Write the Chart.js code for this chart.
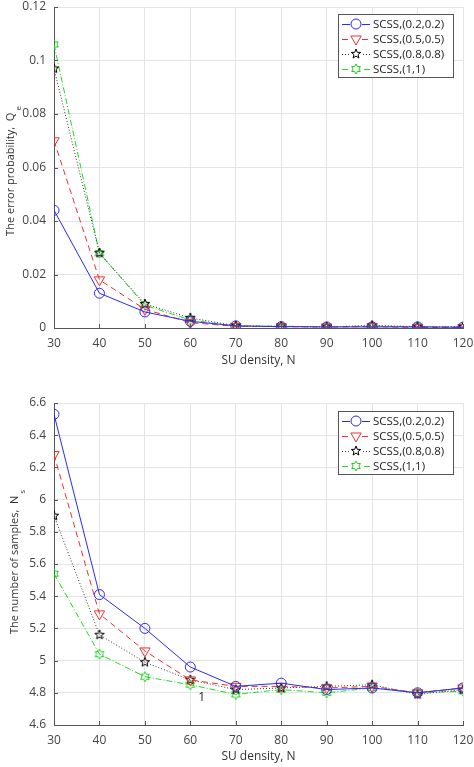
<!DOCTYPE html>
<html>
<head>
<meta charset="utf-8">
<script src="https://cdn.jsdelivr.net/npm/chart.js@4.4.1/dist/chart.umd.min.js"></script>
<style>
html, body { margin: 0; padding: 0; background: #fff; }
.box { position: relative; width: 474px; }
#top { height: 380px; }
#bottom { height: 387px; }
</style>
</head>
<body>
<div class="box" id="top"><canvas id="chart-error"></canvas></div>
<div class="box" id="bottom"><canvas id="chart-samples"></canvas></div>
<script>
// SU density (x axis)
const density = [30, 40, 50, 60, 70, 80, 90, 100, 110, 120];
const seriesNames = ['SCSS,(0.2,0.2)', 'SCSS,(0.5,0.5)', 'SCSS,(0.8,0.8)', 'SCSS,(1,1)'];

// error probability Qe
const errA = [0.044, 0.013, 0.006, 0.0025, 0.0008, 0.0005, 0.0004, 0.0004, 0.0004, 0.0003];
const errB = [0.070, 0.018, 0.007, 0.0020, 0.0006, 0.0005, 0.0004, 0.0005, 0.0002, 0.0002];
const errC = [0.097, 0.028, 0.009, 0.0038, 0.0008, 0.0006, 0.0004, 0.0010, 0.0005, 0.0004];
const errD = [0.106, 0.028, 0.0085, 0.0030, 0.0007, 0.0007, 0.0004, 0.0007, 0.0005, 0.0003];

// number of samples Ns
const nsA = [6.53, 5.41, 5.20, 4.96, 4.84, 4.86, 4.82, 4.83, 4.80, 4.83];
const nsB = [6.28, 5.29, 5.06, 4.88, 4.84, 4.84, 4.83, 4.84, 4.80, 4.83];
const nsC = [5.90, 5.16, 4.99, 4.88, 4.82, 4.83, 4.84, 4.85, 4.79, 4.82];
const nsD = [5.54, 5.04, 4.90, 4.85, 4.79, 4.82, 4.80, 4.83, 4.80, 4.81];

const errTicks = { min: 0, max: 0.12, step: 0.02 };
const nsTicks = { min: 4.6, max: 6.6, step: 0.2 };

const FONT = '"Open Sans", sans-serif';
const TXT = '#333';

// custom markers (pentagram / hexagram like matlab 'p' and 'h')
function starCanvas(points, outer, inner, color) {
    const c = document.createElement('canvas');
    c.width = 12; c.height = 12;
    const ctx = c.getContext('2d');
    ctx.strokeStyle = color;
    ctx.lineWidth = 1;
    ctx.beginPath();
    for (let i = 0; i < points * 2; i++) {
        const r = i % 2 === 0 ? outer : inner;
        const a = -Math.PI / 2 + i * Math.PI / points;
        const x = 6 + r * Math.cos(a), y = 6 + r * Math.sin(a);
        if (i === 0) ctx.moveTo(x, y); else ctx.lineTo(x, y);
    }
    ctx.closePath();
    ctx.stroke();
    return c;
}
const pentagram = starCanvas(5, 5, 2.1, '#000');
const hexagram = starCanvas(6, 5, 2.9, '#1ecf1e');

const styles = [
    { color: '#2a2af0', dash: [], point: 'circle', rot: 0, r: 5 },
    { color: '#ee3030', dash: [6, 4], point: 'triangle', rot: 180, r: 6 },
    { color: '#333', dash: [1, 2], point: pentagram, rot: 0, r: 5 },
    { color: '#22d822', dash: [6, 2, 1, 2], point: hexagram, rot: 0, r: 5 },
];

function makeDatasets(arrays) {
    return arrays.map((arr, i) => ({
        label: seriesNames[i],
        data: density.map((x, j) => ({ x, y: arr[j] })),
        borderColor: styles[i].color,
        borderWidth: 1,
        borderDash: styles[i].dash,
        pointStyle: styles[i].point,
        pointRotation: styles[i].rot,
        pointRadius: styles[i].r,
        pointBorderColor: styles[i].color,
        pointBackgroundColor: 'rgba(0,0,0,0)',
        pointBorderWidth: 1,
        fill: false,
        tension: 0,
    }));
}

// legend box inside plot, inner ticks, axis titles
const decorations = {
    id: 'decorations',
    afterDraw(chart, args, opts) {
        const ctx = chart.ctx;
        const a = chart.chartArea;
        const sx = chart.scales.x, sy = chart.scales.y;
        ctx.save();
        // inner tick marks
        ctx.strokeStyle = '#555';
        ctx.lineWidth = 1;
        ctx.beginPath();
        sy.ticks.forEach(t => {
            const y = Math.round(sy.getPixelForValue(t.value)) + 0.5;
            ctx.moveTo(a.left, y); ctx.lineTo(a.left + 4, y);
        });
        sx.ticks.forEach(t => {
            const x = Math.round(sx.getPixelForValue(t.value)) + 0.5;
            ctx.moveTo(x, a.bottom); ctx.lineTo(x, a.bottom - 4);
        });
        ctx.stroke();
        // legend
        const L = opts.legend;
        ctx.fillStyle = '#fff';
        ctx.fillRect(L.x, L.y, L.w, L.h);
        ctx.strokeStyle = '#555';
        ctx.strokeRect(L.x + 0.5, L.y + 0.5, L.w, L.h);
        chart.data.datasets.forEach((ds, i) => {
            const y = L.y + 10 + i * 15;
            ctx.strokeStyle = ds.borderColor;
            ctx.setLineDash(ds.borderDash);
            ctx.beginPath();
            ctx.moveTo(L.x + 4, y + 0.5);
            ctx.lineTo(L.x + 32, y + 0.5);
            ctx.stroke();
            ctx.setLineDash([]);
            ctx.fillStyle = '#fff';
            ctx.fillRect(L.x + 12, y - 5, 12, 11);
            ctx.fillStyle = 'rgba(0,0,0,0)';
            ctx.strokeStyle = ds.pointBorderColor;
            Chart.helpers.drawPoint(ctx, { pointStyle: ds.pointStyle, rotation: ds.pointRotation, radius: ds.pointRadius, borderWidth: 1 }, L.x + 18, y);
            ctx.fillStyle = '#222';
            ctx.font = '11.5px ' + FONT;
            ctx.textBaseline = 'middle';
            ctx.textAlign = 'left';
            ctx.fillText(ds.label, L.x + 35, y + 1);
        });
        // x title
        ctx.fillStyle = TXT;
        ctx.font = '12px ' + FONT;
        ctx.textAlign = 'center';
        ctx.textBaseline = 'middle';
        ctx.fillText('SU density, N', (a.left + a.right) / 2, opts.xTitleY);
        // y title with subscript
        ctx.save();
        ctx.translate(opts.yTitleX, opts.yTitleMid);
        ctx.rotate(-Math.PI / 2);
        ctx.font = '11px ' + FONT;
        const main = opts.yTitle, sub = opts.ySub;
        const wMain = ctx.measureText(main).width;
        ctx.font = '8px ' + FONT;
        const wSub = ctx.measureText(sub).width;
        const start = -(wMain + wSub) / 2;
        ctx.textAlign = 'left';
        ctx.font = '11px ' + FONT;
        ctx.fillText(main, start, 0);
        ctx.font = '8px ' + FONT;
        ctx.fillText(sub, start + wMain + 2, 8);
        ctx.restore();
        // annotation
        if (opts.note) {
            ctx.font = '12px ' + FONT;
            ctx.fillStyle = '#222';
            ctx.textAlign = 'center';
            ctx.fillText(opts.note.text, sx.getPixelForValue(opts.note.x), sy.getPixelForValue(opts.note.y));
        }
        ctx.restore();
    }
};

function makeChart(id, arrays, ticks, cfg) {
    return new Chart(document.getElementById(id), {
        type: 'line',
        data: { datasets: makeDatasets(arrays) },
        options: {
            responsive: true,
            maintainAspectRatio: false,
            animation: false,
            layout: { padding: { top: cfg.padTop, right: 11, left: 0, bottom: 0 } },
            plugins: {
                legend: { display: false },
                tooltip: { enabled: false },
                decorations: cfg.deco,
            },
            scales: {
                x: {
                    type: 'linear', min: 30, max: 120,
                    afterFit: s => { s.height = cfg.xHeight; s.paddingLeft = 0; s.paddingRight = 0; },
                    ticks: { stepSize: 10, color: '#444', padding: 8, font: { family: FONT, size: 12 }, maxRotation: 0 },
                    grid: { color: '#e4e4e4', drawTicks: false },
                    border: { color: '#555' },
                },
                y: {
                    min: ticks.min, max: ticks.max,
                    afterFit: s => { s.width = 54; s.paddingTop = 0; s.paddingBottom = 0; },
                    ticks: { stepSize: ticks.step, color: '#444', padding: 8, font: { family: FONT, size: 12 },
                        callback: v => +v.toFixed(2) },
                    grid: { color: '#e4e4e4', drawTicks: false },
                    border: { color: '#555' },
                },
            },
        },
        plugins: [decorations],
    });
}

makeChart('chart-error', [errA, errB, errC, errD], errTicks, {
    padTop: 5, xHeight: 52,
    deco: { legend: { x: 338, y: 14, w: 115, h: 63 }, xTitleY: 361, yTitleX: 11, yTitleMid: 172,
        yTitle: 'The error probability,  Q', ySub: 'e' },
});

makeChart('chart-samples', [nsA, nsB, nsC, nsD], nsTicks, {
    padTop: 23, xHeight: 42,
    deco: { legend: { x: 338, y: 31, w: 115, h: 63 }, xTitleY: 377, yTitleX: 15, yTitleMid: 183,
        yTitle: 'The number of samples,  N', ySub: 's', note: { text: '1', x: 62.5, y: 4.77 } },
});
</script>
</body>
</html>
